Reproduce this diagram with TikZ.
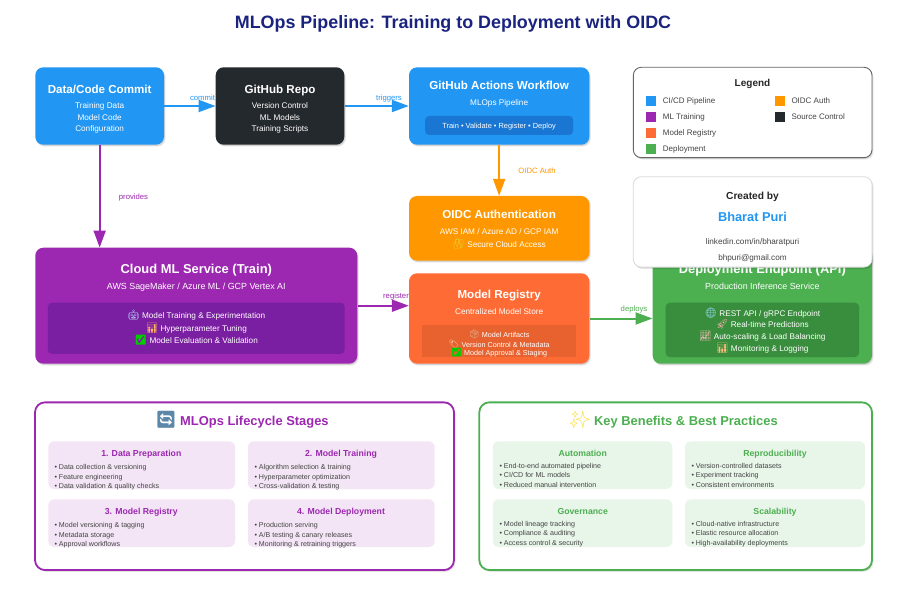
\documentclass[tikz,border=0pt]{standalone}
\usepackage{fontspec}
\setmainfont{Liberation Sans}
\newfontfamily\emofont[Scale=1.2]{Noto Emoji}
\newfontfamily\emobig[Scale=1.3]{Noto Emoji}
\usetikzlibrary{shadows,arrows.meta}
\definecolor{cblue}{HTML}{2196F3}
\definecolor{cpurple}{HTML}{9C27B0}
\definecolor{cred}{HTML}{FF6B35}
\definecolor{cgreen}{HTML}{4CAF50}
\definecolor{corange}{HTML}{FF9800}
\definecolor{cdark}{HTML}{24292E}
\definecolor{iblue}{HTML}{1976D2}
\definecolor{ipurple}{HTML}{7B1FA2}
\definecolor{ired}{HTML}{E8622F}
\definecolor{igreen}{HTML}{388E3C}
\definecolor{tnavy}{HTML}{1A237E}
\definecolor{cardp}{HTML}{F3E5F5}
\definecolor{cardg}{HTML}{E8F5E9}
\definecolor{tgrey}{HTML}{444444}
\definecolor{slatee}{HTML}{5B87A8}
\newcommand{\fs}[1]{\fontsize{#1}{#1}\selectfont}
\newcommand{\emo}[2]{{\emofont\textcolor{#1}{#2}}}
\newcommand{\emob}[2]{{\emobig\textcolor{#1}{#2}}}
\tikzset{
  softshadow/.style={drop shadow={shadow xshift=0.8pt,shadow yshift=-1.2pt,opacity=.10,fill=black},drop shadow={shadow xshift=1.6pt,shadow yshift=-2pt,opacity=.07,fill=black}},
  flowbox/.style={rectangle,rounded corners=8pt,inner sep=0pt,softshadow},
  innerbox/.style={rectangle,rounded corners=4pt,inner sep=0pt},
  cardbox/.style={rectangle,rounded corners=6pt,inner sep=0pt},
  panel/.style={rectangle,rounded corners=10pt,inner sep=0pt,fill=white,line width=1.8pt,softshadow},
  swatch/.style={rectangle,inner sep=0pt,minimum size=10pt},
  txt/.style={inner sep=0pt,text depth=0pt,text height={.62*#1pt},font=\fs{#1}},
  txb/.style={inner sep=0pt,text depth=0pt,text height={.62*#1pt},font=\fs{#1}\bfseries},
  htitle/.style={txb=11.6,white},
  hbig/.style={txb=12.9,white},
  wsub/.style={txt=8.2,white},
  wsubb/.style={txt=8.9,white},
  wsmall/.style={txt=7.2,white},
  edgelab/.style={txt=7.7},
  leglab/.style={txt=8,anchor=west,text=tgrey},
  pantitle/.style={txb=12.9},
  cardhead/.style={txb=8.7},
  bull/.style={txt=7.1,anchor=west,text=tgrey},
  conn/.style={line width=2pt,-{Triangle[length=17pt,width=12pt]}},
}
\begin{document}
\begin{tikzpicture}[x=1pt,y=-1pt]
\useasboundingbox[fill=white] (0,0) rectangle (911,591);
\node[txb=17.9,text=tnavy] (title) at (453,23) {MLOps Pipeline: Training to Deployment with OIDC};

% boxes
\node[flowbox,fill=cblue,minimum width=128.7pt,minimum height=77.4pt] (data) at (99.65,106) {};
\node[flowbox,fill=cdark,minimum width=128.6pt,minimum height=77.4pt] (repo) at (280,106) {};
\node[flowbox,fill=cblue,minimum width=180.3pt,minimum height=77.4pt] (actions) at (499.15,106) {};
\node[innerbox,fill=iblue,minimum width=148pt,minimum height=19pt] (actionsin) at (499.15,125.5) {};
\node[flowbox,fill=corange,minimum width=180.3pt,minimum height=64.7pt] (oidc) at (499.15,228.35) {};
\node[flowbox,fill=cpurple,minimum width=322pt,minimum height=116pt] (cloud) at (196.3,305.7) {};
\node[innerbox,fill=ipurple,minimum width=296.7pt,minimum height=51.3pt] (cloudin) at (196.3,328.3) {};
\node[flowbox,fill=cred,minimum width=180.3pt,minimum height=90.4pt] (reg) at (499.15,318.5) {};
\node[rectangle,inner sep=0pt,fill=ired,minimum width=154pt,minimum height=32pt] (regin) at (499.15,341) {};
\node[flowbox,fill=cgreen,minimum width=219.3pt,minimum height=116pt] (dep) at (762.35,305.7) {};
\node[innerbox,fill=igreen,minimum width=193.3pt,minimum height=54.3pt] (depin) at (762.35,329.85) {};

% connectors
\draw[conn,cblue] (data.east) -- (repo.west);
\draw[conn,cblue] (repo.east) -- (actions.west);
\draw[conn,corange] (actions.south) -- (oidc.north);
\draw[conn,cpurple] (data.south) -- (data.south |- cloud.north);
\draw[conn,cpurple] (cloud.east) -- (cloud.east -| reg.west);
\draw[conn,cgreen] (reg.east) -- (reg.east -| dep.west);

% edge labels
\node[edgelab,text=cblue] (lcommit) at (202.5,97.7) {commit};
\node[edgelab,text=cblue] (ltrig) at (389,97.7) {triggers};
\node[edgelab,text=corange] (loidc) at (537,171) {OIDC Auth};
\node[edgelab,text=cpurple] (lprov) at (133.5,197) {provides};
\node[edgelab,text=cpurple] (lreg) at (396,296.3) {register};
\node[edgelab,text=cgreen] (ldep) at (634,309.3) {deploys};

% data
\node[htitle] (d0) at (99.65,89.5) {Data/Code Commit};
\node[wsub] (d1) at (99.65,106) {Training Data};
\node[wsub] (d2) at (99.65,118) {Model Code};
\node[wsub] (d3) at (99.65,129) {Configuration};
% repo
\node[htitle] (r0) at (280,89.5) {GitHub Repo};
\node[wsub] (r1) at (280,106) {Version Control};
\node[wsub] (r2) at (280,118) {ML Models};
\node[wsub] (r3) at (280,129) {Training Scripts};
% actions
\node[htitle] (a0) at (499.15,86) {GitHub Actions Workflow};
\node[wsub] (a1) at (499.15,103) {MLOps Pipeline};
\node[txt=7.4,white] (a2) at (499.15,126.3) {Train • Validate • Register • Deploy};
% oidc
\node[htitle] (o0) at (499.15,215) {OIDC Authentication};
\node[wsub] (o1) at (499.15,232) {AWS IAM / Azure AD / GCP IAM};
\node[wsub] (o2) at (499.15,245) {\emo{yellow!60!brown}{🔐} Secure Cloud Access};
% cloud
\node[hbig] (c0) at (196.3,269.7) {Cloud ML Service (Train)};
\node[wsubb] (c1) at (196.3,286.7) {AWS SageMaker / Azure ML / GCP Vertex AI};
\node[wsub] (c2) at (196.3,316) {\emo{cyan!30!white}{🤖} Model Training \& Experimentation};
\node[wsub] (c3) at (196.3,329) {\emo{orange!60!white}{📊} Hyperparameter Tuning};
\node[wsub] (c4) at (196.3,341) {\emo{green!80!black}{✅} Model Evaluation \& Validation};
% registry
\node[htitle] (g0) at (499.15,295) {Model Registry};
\node[wsub] (g1) at (499.15,312) {Centralized Model Store};
\node[wsmall] (g2) at (499.15,335.3) {\emo{brown!50!white}{📦} Model Artifacts};
\node[wsmall] (g3) at (499.15,345.3) {\emo{orange!30!white}{🏷} Version Control \& Metadata};
\node[wsmall] (g4) at (499.15,353.3) {\emo{green!80!black}{✅} Model Approval \& Staging};
% deployment
\node[hbig] (e0) at (762.35,270) {Deployment Endpoint (API)};
\node[wsubb] (e1) at (762.35,286.7) {Production Inference Service};
\node[wsub] (e2) at (762.35,314) {\emo{cyan!40!white}{🌐} REST API / gRPC Endpoint};
\node[wsub] (e3) at (762.35,325.3) {\emo{red!30!white}{🚀} Real-time Predictions};
\node[wsub] (e4) at (762.35,337.3) {\emo{red!25!white}{📈} Auto-scaling \& Load Balancing};
\node[wsub] (e5) at (762.35,349.3) {\emo{orange!50!white}{📊} Monitoring \& Logging};

% legend
\node[rectangle,rounded corners=8pt,inner sep=0pt,fill=white,draw=black!60,line width=.9pt,minimum width=238.7pt,minimum height=90.4pt,softshadow] (legend) at (752.65,112.5) {};
\node[txb=10,text=black!85] (legt) at (752.5,83.5) {Legend};
\node[swatch,fill=cblue] (s1) at (651,101) {};
\node[swatch,fill=cpurple] (s2) at (651,117.3) {};
\node[swatch,fill=cred] (s3) at (651,133.3) {};
\node[swatch,fill=cgreen] (s4) at (651,149.3) {};
\node[swatch,fill=corange] (s5) at (780,101) {};
\node[swatch,fill=cdark] (s6) at (780,117.3) {};
\node[leglab] (t1) at (662.7,101) {CI/CD Pipeline};
\node[leglab] (t2) at (662.7,117.3) {ML Training};
\node[leglab] (t3) at (662.7,133.3) {Model Registry};
\node[leglab] (t4) at (662.7,149.3) {Deployment};
\node[leglab] (t5) at (791.3,101) {OIDC Auth};
\node[leglab] (t6) at (791.3,117.3) {Source Control};

% created by
\node[rectangle,rounded corners=8pt,inner sep=0pt,fill=white,draw=black!15,line width=.8pt,minimum width=238.7pt,minimum height=90.4pt,softshadow] (made) at (752.65,221.9) {};
\node[txb=10.2,text=black!85] (m0) at (752.5,196.3) {Created by};
\node[txb=12.8,text=cblue] (m1) at (752.5,217.3) {Bharat Puri};
\node[txt=8.2,text=tgrey] (m2) at (752.5,242) {linkedin.com/in/bharatpuri};
\node[txt=8.2,text=tgrey] (m3) at (752.5,258) {bhpuri@gmail.com};

% lifecycle panel
\node[panel,draw=cpurple,minimum width=419pt,minimum height=167.7pt] (life) at (244.5,486.2) {};
\node[pantitle,text=cpurple] (lt) at (242,421.5) {\emob{slatee}{🔄} MLOps Lifecycle Stages};
\node[cardbox,fill=cardp,minimum width=186.7pt,minimum height=47.7pt] (lc1) at (141.65,465.15) {};
\node[cardbox,fill=cardp,minimum width=186.7pt,minimum height=47.7pt] (lc2) at (341.35,465.15) {};
\node[cardbox,fill=cardp,minimum width=186.7pt,minimum height=47.7pt] (lc3) at (141.65,523.15) {};
\node[cardbox,fill=cardp,minimum width=186.7pt,minimum height=47.7pt] (lc4) at (341.35,523.15) {};
\node[cardhead,text=cpurple] (h1) at (141.3,454) {1. Data Preparation};
\node[bull] (b11) at (54.3,467.3) {• Data collection \& versioning};
\node[bull] (b12) at (54.3,477.3) {• Feature engineering};
\node[bull] (b13) at (54.3,486.7) {• Data validation \& quality checks};
\node[cardhead,text=cpurple] (h2) at (341,454) {2. Model Training};
\node[bull] (b21) at (254.3,467.3) {• Algorithm selection \& training};
\node[bull] (b22) at (254.3,477.3) {• Hyperparameter optimization};
\node[bull] (b23) at (254.3,486.7) {• Cross-validation \& testing};
\node[cardhead,text=cpurple] (h3) at (141.3,511.7) {3. Model Registry};
\node[bull] (b31) at (54.3,525.3) {• Model versioning \& tagging};
\node[bull] (b32) at (54.3,535.3) {• Metadata storage};
\node[bull] (b33) at (54.3,544.7) {• Approval workflows};
\node[cardhead,text=cpurple] (h4) at (341,511.7) {4. Model Deployment};
\node[bull] (b41) at (254.3,525.3) {• Production serving};
\node[bull] (b42) at (254.3,535.3) {• A/B testing \& canary releases};
\node[bull] (b43) at (254.3,544.7) {• Monitoring \& retraining triggers};

% benefits panel
\node[panel,draw=cgreen,minimum width=392.7pt,minimum height=167.7pt] (ben) at (675.65,486.2) {};
\node[pantitle,text=cgreen] (bt) at (673.5,421.5) {\emob{yellow!70!orange!70!white}{✨} Key Benefits \& Best Practices};
\node[cardbox,fill=cardg,minimum width=179.5pt,minimum height=47.7pt] (bc1) at (582.6,465.15) {};
\node[cardbox,fill=cardg,minimum width=180pt,minimum height=47.7pt] (bc2) at (775,465.15) {};
\node[cardbox,fill=cardg,minimum width=179.5pt,minimum height=47.7pt] (bc3) at (582.6,523.15) {};
\node[cardbox,fill=cardg,minimum width=180pt,minimum height=47.7pt] (bc4) at (775,523.15) {};
\node[cardhead,text=cgreen] (k1) at (582.7,454) {Automation};
\node[bull] (p11) at (499.3,466.3) {• End-to-end automated pipeline};
\node[bull] (p12) at (499.3,475.7) {• CI/CD for ML models};
\node[bull] (p13) at (499.3,485.3) {• Reduced manual intervention};
\node[cardhead,text=cgreen] (k2) at (775,454) {Reproducibility};
\node[bull] (p21) at (691.3,466.3) {• Version-controlled datasets};
\node[bull] (p22) at (691.3,475.7) {• Experiment tracking};
\node[bull] (p23) at (691.3,485.3) {• Consistent environments};
\node[cardhead,text=cgreen] (k3) at (582.7,511.7) {Governance};
\node[bull] (p31) at (499.3,524.3) {• Model lineage tracking};
\node[bull] (p32) at (499.3,533.7) {• Compliance \& auditing};
\node[bull] (p33) at (499.3,543.3) {• Access control \& security};
\node[cardhead,text=cgreen] (k4) at (775,511.7) {Scalability};
\node[bull] (p41) at (691.3,524.3) {• Cloud-native infrastructure};
\node[bull] (p42) at (691.3,533.7) {• Elastic resource allocation};
\node[bull] (p43) at (691.3,543.3) {• High-availability deployments};
\end{tikzpicture}
\end{document}
